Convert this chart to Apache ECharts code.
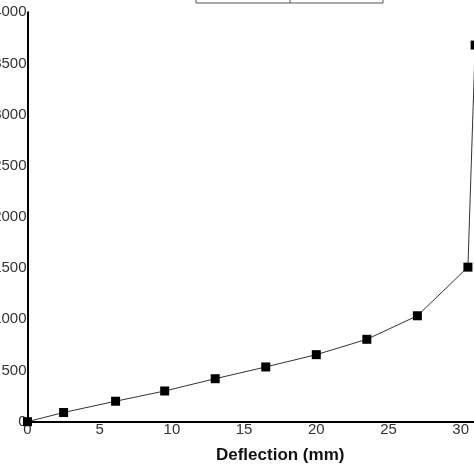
<!DOCTYPE html>
<html>
<head>
<meta charset="utf-8">
<script src="https://cdn.jsdelivr.net/npm/echarts@6/dist/echarts.min.js"></script>
<style>
  html, body { margin: 0; padding: 0; background: #fff; }
  #vis { width: 474px; height: 474px; }
</style>
</head>
<body>
<div id="vis"></div>
<script>
// load vs deflection
const deflection = [0, 2.5, 6.1, 9.5, 13.0, 16.5, 20.0, 23.5, 27.0, 30.5, 31.0]
const load = [0, 90, 200, 300, 420, 535, 655, 805, 1035, 1510, 3680]
const xTicks = [0, 5, 10, 15, 20, 25, 30, 35]
const yTicks = [0, 500, 1000, 1500, 2000, 2500, 3000, 3500, 4000]

const points = deflection.map((d, i) => [d, load[i]])

const chart = echarts.init(document.getElementById('vis'), null, { renderer: 'canvas' })

const labelFont = { fontFamily: 'Liberation Sans, Arial, sans-serif', fontSize: 15, color: '#333' }

chart.setOption({
  animation: false,
  grid: {
    left: 27.5,
    top: 12.3,
    bottom: 52.3,
    width: 14.44 * xTicks[xTicks.length - 1],
    containLabel: false,
    outerBoundsMode: 'none'
  },
  xAxis: {
    type: 'value',
    min: xTicks[0],
    max: xTicks[xTicks.length - 1],
    interval: 5,
    name: 'Deflection (mm)',
    nameLocation: 'middle',
    nameGap: 25,
    nameTextStyle: {
      fontFamily: 'Liberation Sans, Arial, sans-serif',
      fontSize: 17,
      fontWeight: 'bold',
      color: '#111'
    },
    axisLine: { lineStyle: { color: '#000', width: 2 } },
    axisTick: { show: false },
    axisLabel: { ...labelFont, margin: 1, formatter: (v) => String(v) },
    splitLine: { show: false }
  },
  yAxis: {
    type: 'value',
    min: yTicks[0],
    max: yTicks[yTicks.length - 1],
    interval: 500,
    axisLine: { show: true, lineStyle: { color: '#000', width: 2 } },
    axisTick: { show: false },
    axisLabel: { ...labelFont, margin: 1, formatter: (v) => String(v) },
    splitLine: { show: false }
  },
  graphic: [
    {
      type: 'rect',
      shape: { x: 196, y: -20, width: 187, height: 23 },
      style: { fill: '#fff', stroke: '#555', lineWidth: 1 }
    },
    {
      type: 'line',
      shape: { x1: 290, y1: -20, x2: 290, y2: 3 },
      style: { stroke: '#555', lineWidth: 1 }
    }
  ],
  series: [
    {
      type: 'line',
      data: points,
      symbol: 'rect',
      symbolSize: 9,
      showAllSymbol: true,
      lineStyle: { color: '#333', width: 1 },
      itemStyle: { color: '#000' },
      z: 3
    }
  ]
})
</script>
</body>
</html>
